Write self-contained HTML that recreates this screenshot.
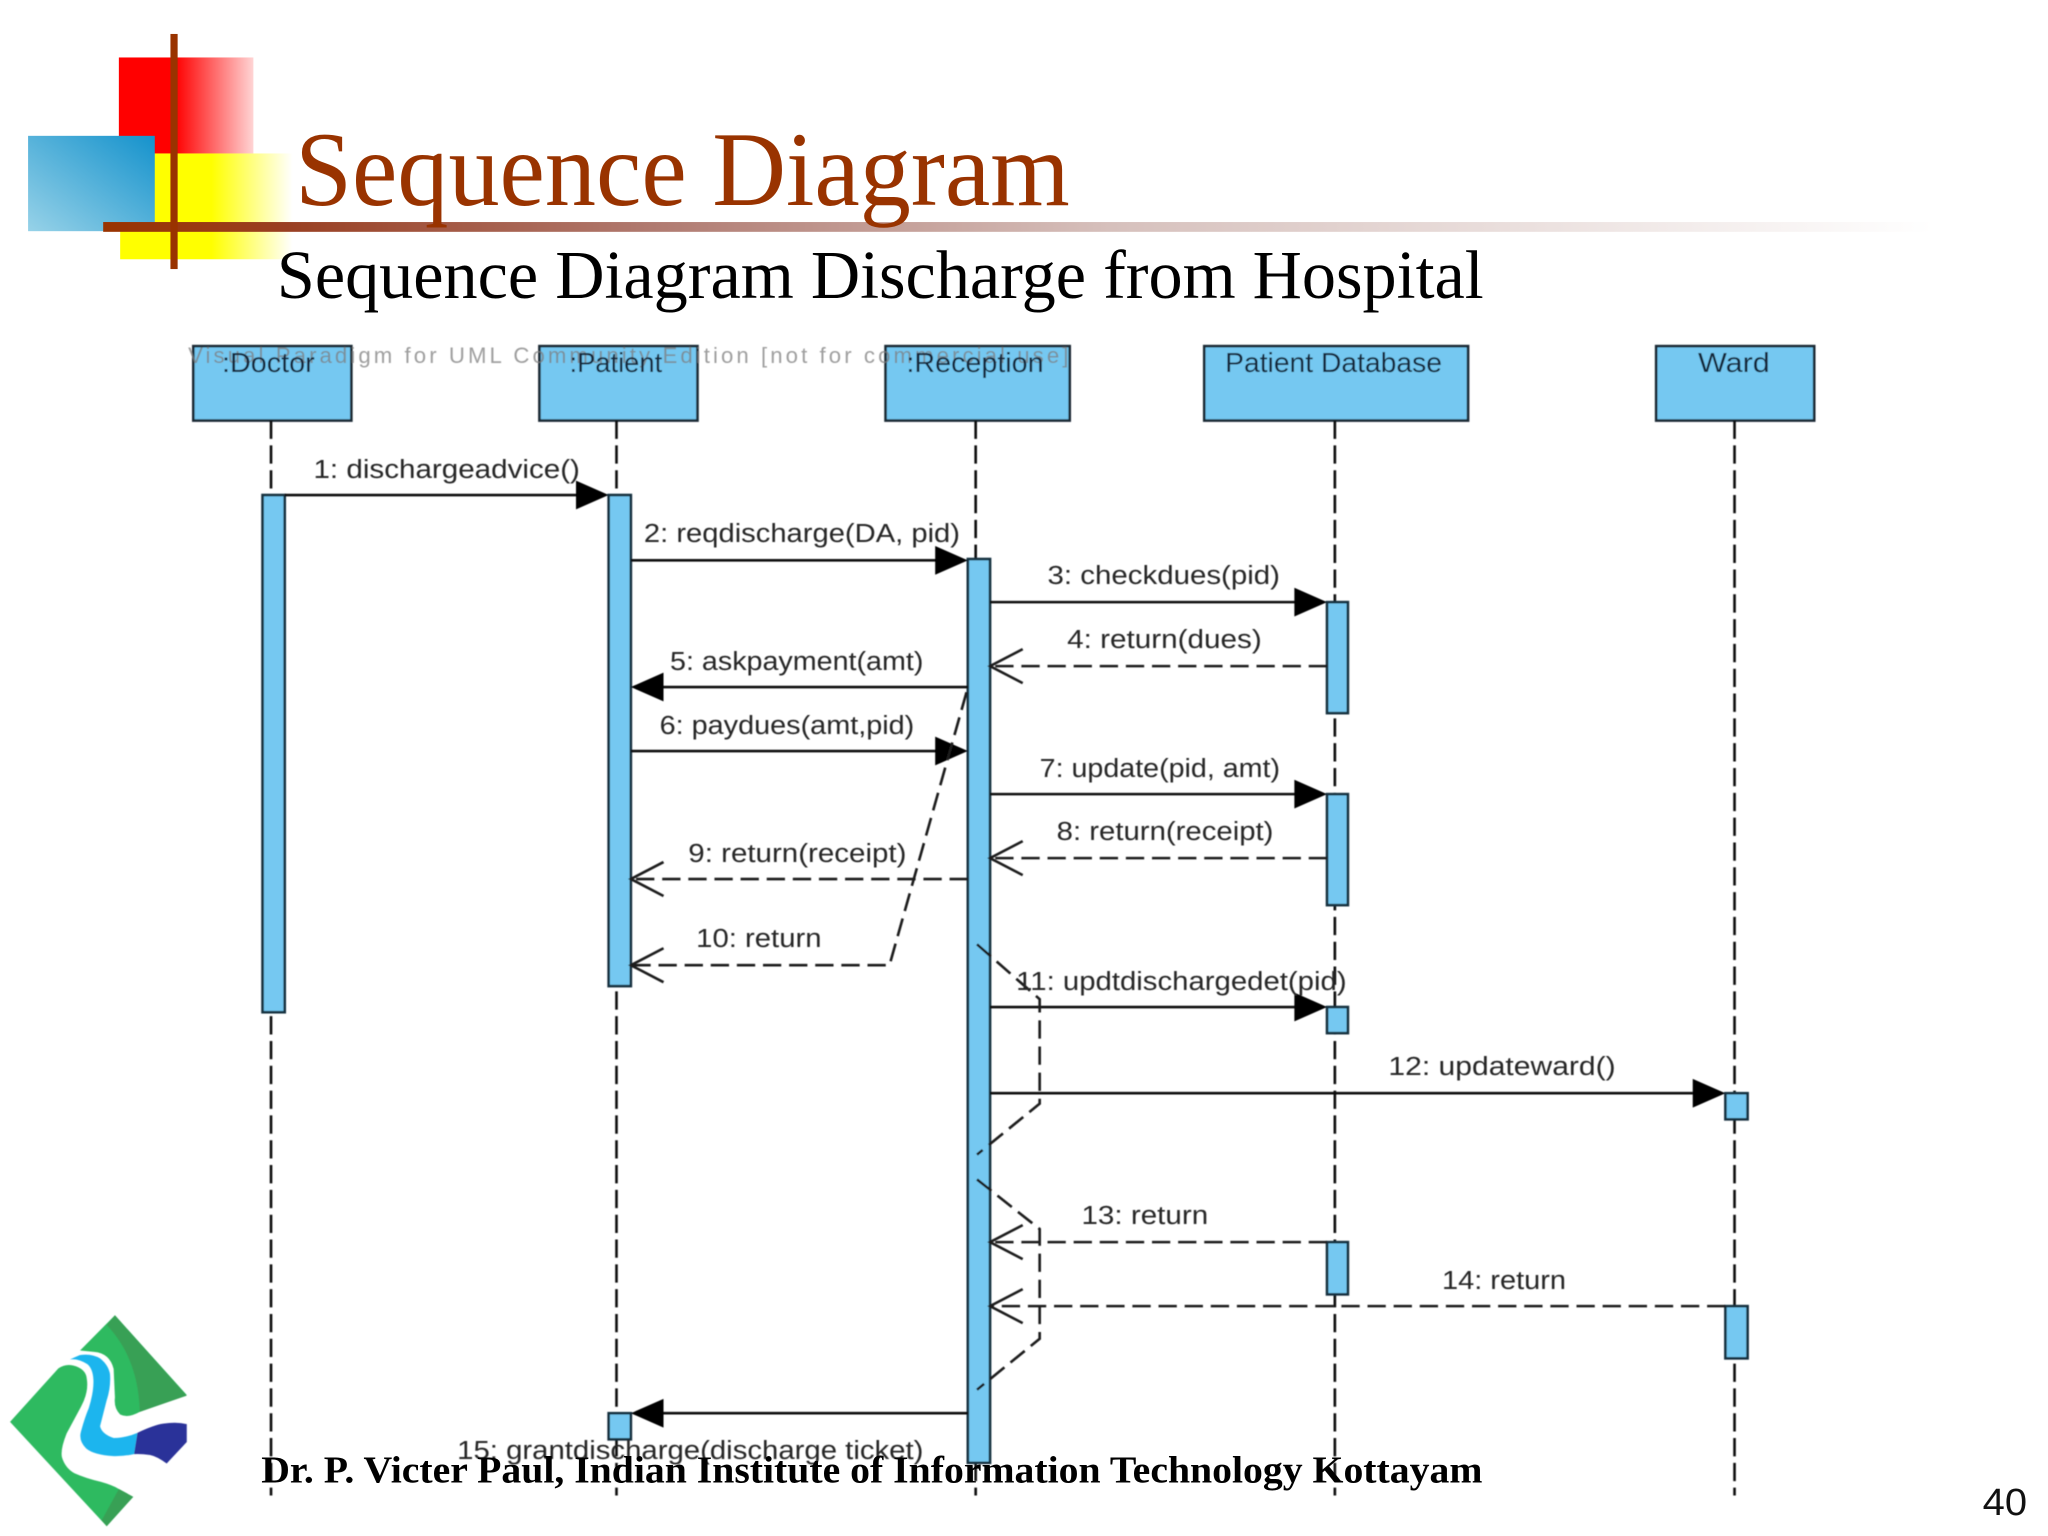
<!DOCTYPE html>
<html><head><meta charset="utf-8"><title>Sequence Diagram</title>
<style>html,body{margin:0;padding:0;background:#fff;width:2048px;height:1536px;overflow:hidden}svg{display:block}</style>
</head><body>
<svg xmlns="http://www.w3.org/2000/svg" width="2048" height="1536" viewBox="0 0 1568 1176">
<defs>
<linearGradient id="r" x1="0" x2="1" y1="0" y2="0"><stop offset="0" stop-color="#f00"/><stop offset=".42" stop-color="#f00"/><stop offset="1" stop-color="#ffd4d4"/></linearGradient>
<linearGradient id="y" x1="0" x2="1" y1="0" y2="0"><stop offset="0" stop-color="#ff0"/><stop offset=".53" stop-color="#ff0"/><stop offset="1" stop-color="#fff"/></linearGradient>
<linearGradient id="b" x1="1" x2="0" y1="0" y2="1"><stop offset="0" stop-color="#1592cc"/><stop offset="1" stop-color="#97d2e8"/></linearGradient>
<linearGradient id="h" x1="0" x2="1" y1="0" y2="0"><stop offset="0" stop-color="#993300"/><stop offset=".1" stop-color="#993f22"/><stop offset=".3" stop-color="#b07a70"/><stop offset=".55" stop-color="#d6c0bc"/><stop offset="1" stop-color="#fff"/></linearGradient>
<filter id="s" x="-2%" y="-2%" width="104%" height="104%"><feGaussianBlur stdDeviation=".5"/></filter>
</defs>
<rect width="1568" height="1176" fill="#fff"/>
<rect x="91" y="44" width="103" height="73.500" fill="url(#r)"/>
<rect x="92" y="117.500" width="132" height="81" fill="url(#y)"/>
<rect x="21.500" y="104" width="97" height="73" fill="url(#b)"/>
<rect x="79" y="170" width="1401" height="7.500" fill="url(#h)"/>
<rect x="130.500" y="26" width="5.500" height="180" fill="#993300"/>
<text x="226" y="157" font-family="Liberation Serif,serif" font-size="81" fill="#993300" textLength="593" lengthAdjust="spacingAndGlyphs">Sequence Diagram</text>
<text x="212" y="228" font-family="Liberation Serif,serif" font-size="53" fill="#000" textLength="924" lengthAdjust="spacingAndGlyphs">Sequence Diagram Discharge from Hospital</text>

<g filter="url(#s)">
<g fill="#74c8f1" stroke="#1a2a34" stroke-width="2">
<rect x="148" y="265" width="121" height="57"/><rect x="413" y="265" width="121" height="57"/><rect x="678" y="265" width="141" height="57"/><rect x="922" y="265" width="202" height="57"/><rect x="1268" y="265" width="121" height="57"/>
</g>
<text x="144" y="278" font-family="Liberation Sans,sans-serif" font-size="17" fill="#7d7d7d" fill-opacity=".75" textLength="674" lengthAdjust="spacing">Visual Paradigm for UML Community Edition [not for commercial use]</text>
<g font-family="Liberation Sans,sans-serif" font-size="21" fill="#12283a">
<text x="170" y="285" textLength="71" lengthAdjust="spacingAndGlyphs">:Doctor</text>
<text x="436" y="285" textLength="71" lengthAdjust="spacingAndGlyphs">:Patient</text>
<text x="694" y="285" textLength="105" lengthAdjust="spacingAndGlyphs">:Reception</text>
<text x="938" y="285" textLength="166" lengthAdjust="spacingAndGlyphs">Patient Database</text>
<text x="1300" y="285" textLength="55" lengthAdjust="spacingAndGlyphs">Ward</text>
</g>
<g stroke="#111" stroke-width="2" stroke-dasharray="14 5" fill="none">
<path d="M207.500 322V1145M472 322V1145M747 322V1145M1022 322V1145M1328 322V1145"/>
</g>
<g fill="#74c8f1" stroke="#16303f" stroke-width="2">
<rect x="201" y="379" width="17" height="396"/>
<rect x="466" y="379" width="17" height="376"/>
<rect x="466" y="1082" width="17" height="20"/>
<rect x="741" y="428" width="17" height="692"/>
<rect x="1016" y="461" width="16" height="85"/>
<rect x="1016" y="608" width="16" height="85"/>
<rect x="1016" y="771" width="16" height="20"/>
<rect x="1016" y="951" width="16" height="40"/>
<rect x="1321" y="837" width="17" height="20"/>
<rect x="1321" y="1000" width="17" height="40"/>
</g>
<g stroke="#111" stroke-width="2" fill="none">
<path d="M218 379H445M483 429H720M758 461H995M741 526H505M483 575H720M758 608H995M758 771H995M758 837H1300M741 1082H505"/>
</g>
<g fill="#000">
<path d="M466 379L441 368V390ZM741 429L716 418V440ZM1016 461L991 450V472ZM483 526L508 515V537ZM741 575L716 564V586ZM1016 608L991 597V619ZM1016 771L991 760V782ZM1321 837L1296 826V848ZM483 1082L508 1071V1093Z"/>
</g>
<g stroke="#1c1c1c" stroke-width="2" fill="none" stroke-dasharray="14 6">
<path d="M1016 510H760"/><path d="M1016 657H760"/><path d="M741 673H485"/><path d="M740 530L681 739H485"/><path d="M1016 951H760"/><path d="M1321 1000H760"/>
<path d="M748 723L796 765V845L748 884"/><path d="M748 903L796 941V1025L748 1064"/>
</g>
<g stroke="#1c1c1c" stroke-width="2" fill="none">
<path d="M783 497L758 510L783 523M783 644L758 657L783 670M508 660L483 673L508 686M508 726L483 739L508 752M783 938L758 951L783 964M783 987L758 1000L783 1013"/>
</g>
<g font-family="Liberation Sans,sans-serif" font-size="19.500" fill="#262626">
<text x="240" y="366" textLength="204" lengthAdjust="spacingAndGlyphs">1: dischargeadvice()</text>
<text x="493" y="415" textLength="242" lengthAdjust="spacingAndGlyphs">2: reqdischarge(DA, pid)</text>
<text x="802" y="447" textLength="178" lengthAdjust="spacingAndGlyphs">3: checkdues(pid)</text>
<text x="817" y="496" textLength="149" lengthAdjust="spacingAndGlyphs">4: return(dues)</text>
<text x="513" y="513" textLength="194" lengthAdjust="spacingAndGlyphs">5: askpayment(amt)</text>
<text x="505" y="562" textLength="195" lengthAdjust="spacingAndGlyphs">6: paydues(amt,pid)</text>
<text x="796" y="595" textLength="184" lengthAdjust="spacingAndGlyphs">7: update(pid, amt)</text>
<text x="809" y="643" textLength="166" lengthAdjust="spacingAndGlyphs">8: return(receipt)</text>
<text x="527" y="660" textLength="167" lengthAdjust="spacingAndGlyphs">9: return(receipt)</text>
<text x="533" y="725" textLength="96" lengthAdjust="spacingAndGlyphs">10: return</text>
<text x="778" y="758" textLength="253" lengthAdjust="spacingAndGlyphs">11: updtdischargedet(pid)</text>
<text x="1063" y="823" textLength="174" lengthAdjust="spacingAndGlyphs">12: updateward()</text>
<text x="828" y="937" textLength="97" lengthAdjust="spacingAndGlyphs">13: return</text>
<text x="1104" y="987" textLength="95" lengthAdjust="spacingAndGlyphs">14: return</text>
<text x="350" y="1117" textLength="357" lengthAdjust="spacingAndGlyphs">15: grantdischarge(discharge ticket)</text>
</g>
</g>

<!-- logo -->
<g filter="url(#s)">
<path d="M88 1007L143 1068L107 1081Q98 1086 92 1083Q87 1078 88 1070L87 1048Q84 1036 72 1035L61.300 1034Z" fill="#2dba60"/>
<path d="M88 1007L143 1068.500L107 1081Q106 1040 81.700 1014.500Z" fill="#38a055"/>
<path d="M7.700 1088.600L44.700 1047.700Q50 1044 56 1045.500Q66 1048 66.500 1056Q68 1066 62 1077L51 1097.500Q46 1110 47.500 1116Q50 1124 57 1128Q66 1132 77 1134.500Q86 1137 91 1140L102 1146L81.700 1168.500Z" fill="#2dba60"/>
<path d="M91 1140L102 1146L81.700 1168.500L77.800 1164Z" fill="#38a055"/>
<path d="M53.600 1040.800L61 1037.500Q70 1036 76.600 1040Q83 1045 84.200 1052Q85 1062 81.700 1072L76.600 1092Q78 1098 87 1101Q96 1101 105.200 1097L102.600 1113.300Q95 1115 87 1114.800Q72 1114 66 1109Q60 1103 62 1096Q65 1085 68 1078Q72 1065 71.500 1056Q71 1048 67 1044.500Q60 1040 53.600 1040.800Z" fill="#1fb5ee"/>
<path d="M105.200 1097Q118 1091 125 1090Q135 1088.500 143 1090.300V1104L127.600 1120.500Q120 1115 114.900 1114Q108 1113 102.600 1113.300Z" fill="#2b3399"/>
</g>

<text x="200" y="1135" font-family="Liberation Serif,serif" font-size="29.500" font-weight="bold" fill="#000" textLength="935" lengthAdjust="spacingAndGlyphs">Dr. P. Victer Paul, Indian Institute of Information Technology Kottayam</text>
<text x="1518" y="1160" font-family="Liberation Sans,sans-serif" font-size="29" fill="#111" textLength="34" lengthAdjust="spacingAndGlyphs">40</text>
</svg>
</body></html>
